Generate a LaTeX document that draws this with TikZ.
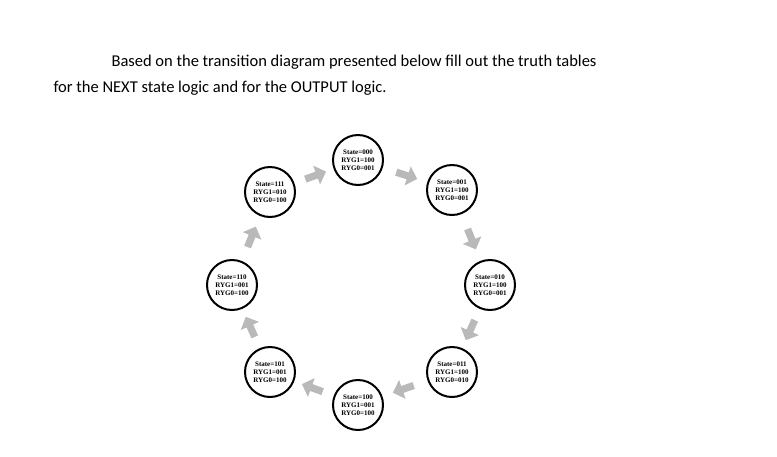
\documentclass[tikz,border=0pt]{standalone}
\usepackage{fontspec}
\setmainfont{Carlito}
\newfontfamily\stfont{Liberation Serif}
\usetikzlibrary{calc,shapes.arrows}
\begin{document}
\begin{tikzpicture}[x=1pt,y=-1pt,
  st/.style={circle,draw,line width=2pt,minimum size=50pt,inner sep=0pt,align=center,font=\stfont\bfseries\fontsize{7}{7.8}\selectfont},
  blk/.style={single arrow,fill=gray!55,draw=none,minimum height=22pt,minimum width=20pt,single arrow head extend=3pt,inner sep=1.5pt}]
\useasboundingbox (0,0) rectangle (777,456);
\node[anchor=west,font=\fontsize{16.5}{20}\selectfont] (t1) at (108,62) {Based on the transition diagram presented below fill out the truth tables};
\node[anchor=west,font=\fontsize{16.5}{20}\selectfont] (t2) at (50,88) {for the NEXT state logic and for the OUTPUT logic.};
\node[st] (s0) at (358,160) {State=000\\RYG1=100\\RYG0=001};
\node[st] (s1) at (452,190) {State=001\\RYG1=100\\RYG0=001};
\node[st] (s2) at (490,285) {State=010\\RYG1=100\\RYG0=001};
\node[st] (s3) at (452,372) {State=011\\RYG1=100\\RYG0=010};
\node[st] (s4) at (358,405) {State=100\\RYG1=001\\RYG0=100};
\node[st] (s5) at (270,372) {State=101\\RYG1=001\\RYG0=100};
\node[st] (s6) at (232,285) {State=110\\RYG1=001\\RYG0=100};
\node[st] (s7) at (270,192) {State=111\\RYG1=010\\RYG0=100};
\node[blk,rotate=-18] (a01) at ($(s0)!0.5!(s1)$) {};
\node[blk,rotate=-68] (a12) at ($(s1)!0.5!(s2)$) {};
\node[blk,rotate=-114] (a23) at ($(s2)!0.5!(s3)$) {};
\node[blk,rotate=-161] (a34) at ($(s3)!0.5!(s4)$) {};
\node[blk,rotate=160] (a45) at ($(s4)!0.5!(s5)$) {};
\node[blk,rotate=114] (a56) at ($(s5)!0.5!(s6)$) {};
\node[blk,rotate=68] (a67) at ($(s6)!0.5!(s7)$) {};
\node[blk,rotate=20] (a70) at ($(s7)!0.5!(s0)$) {};
\end{tikzpicture}
\end{document}
